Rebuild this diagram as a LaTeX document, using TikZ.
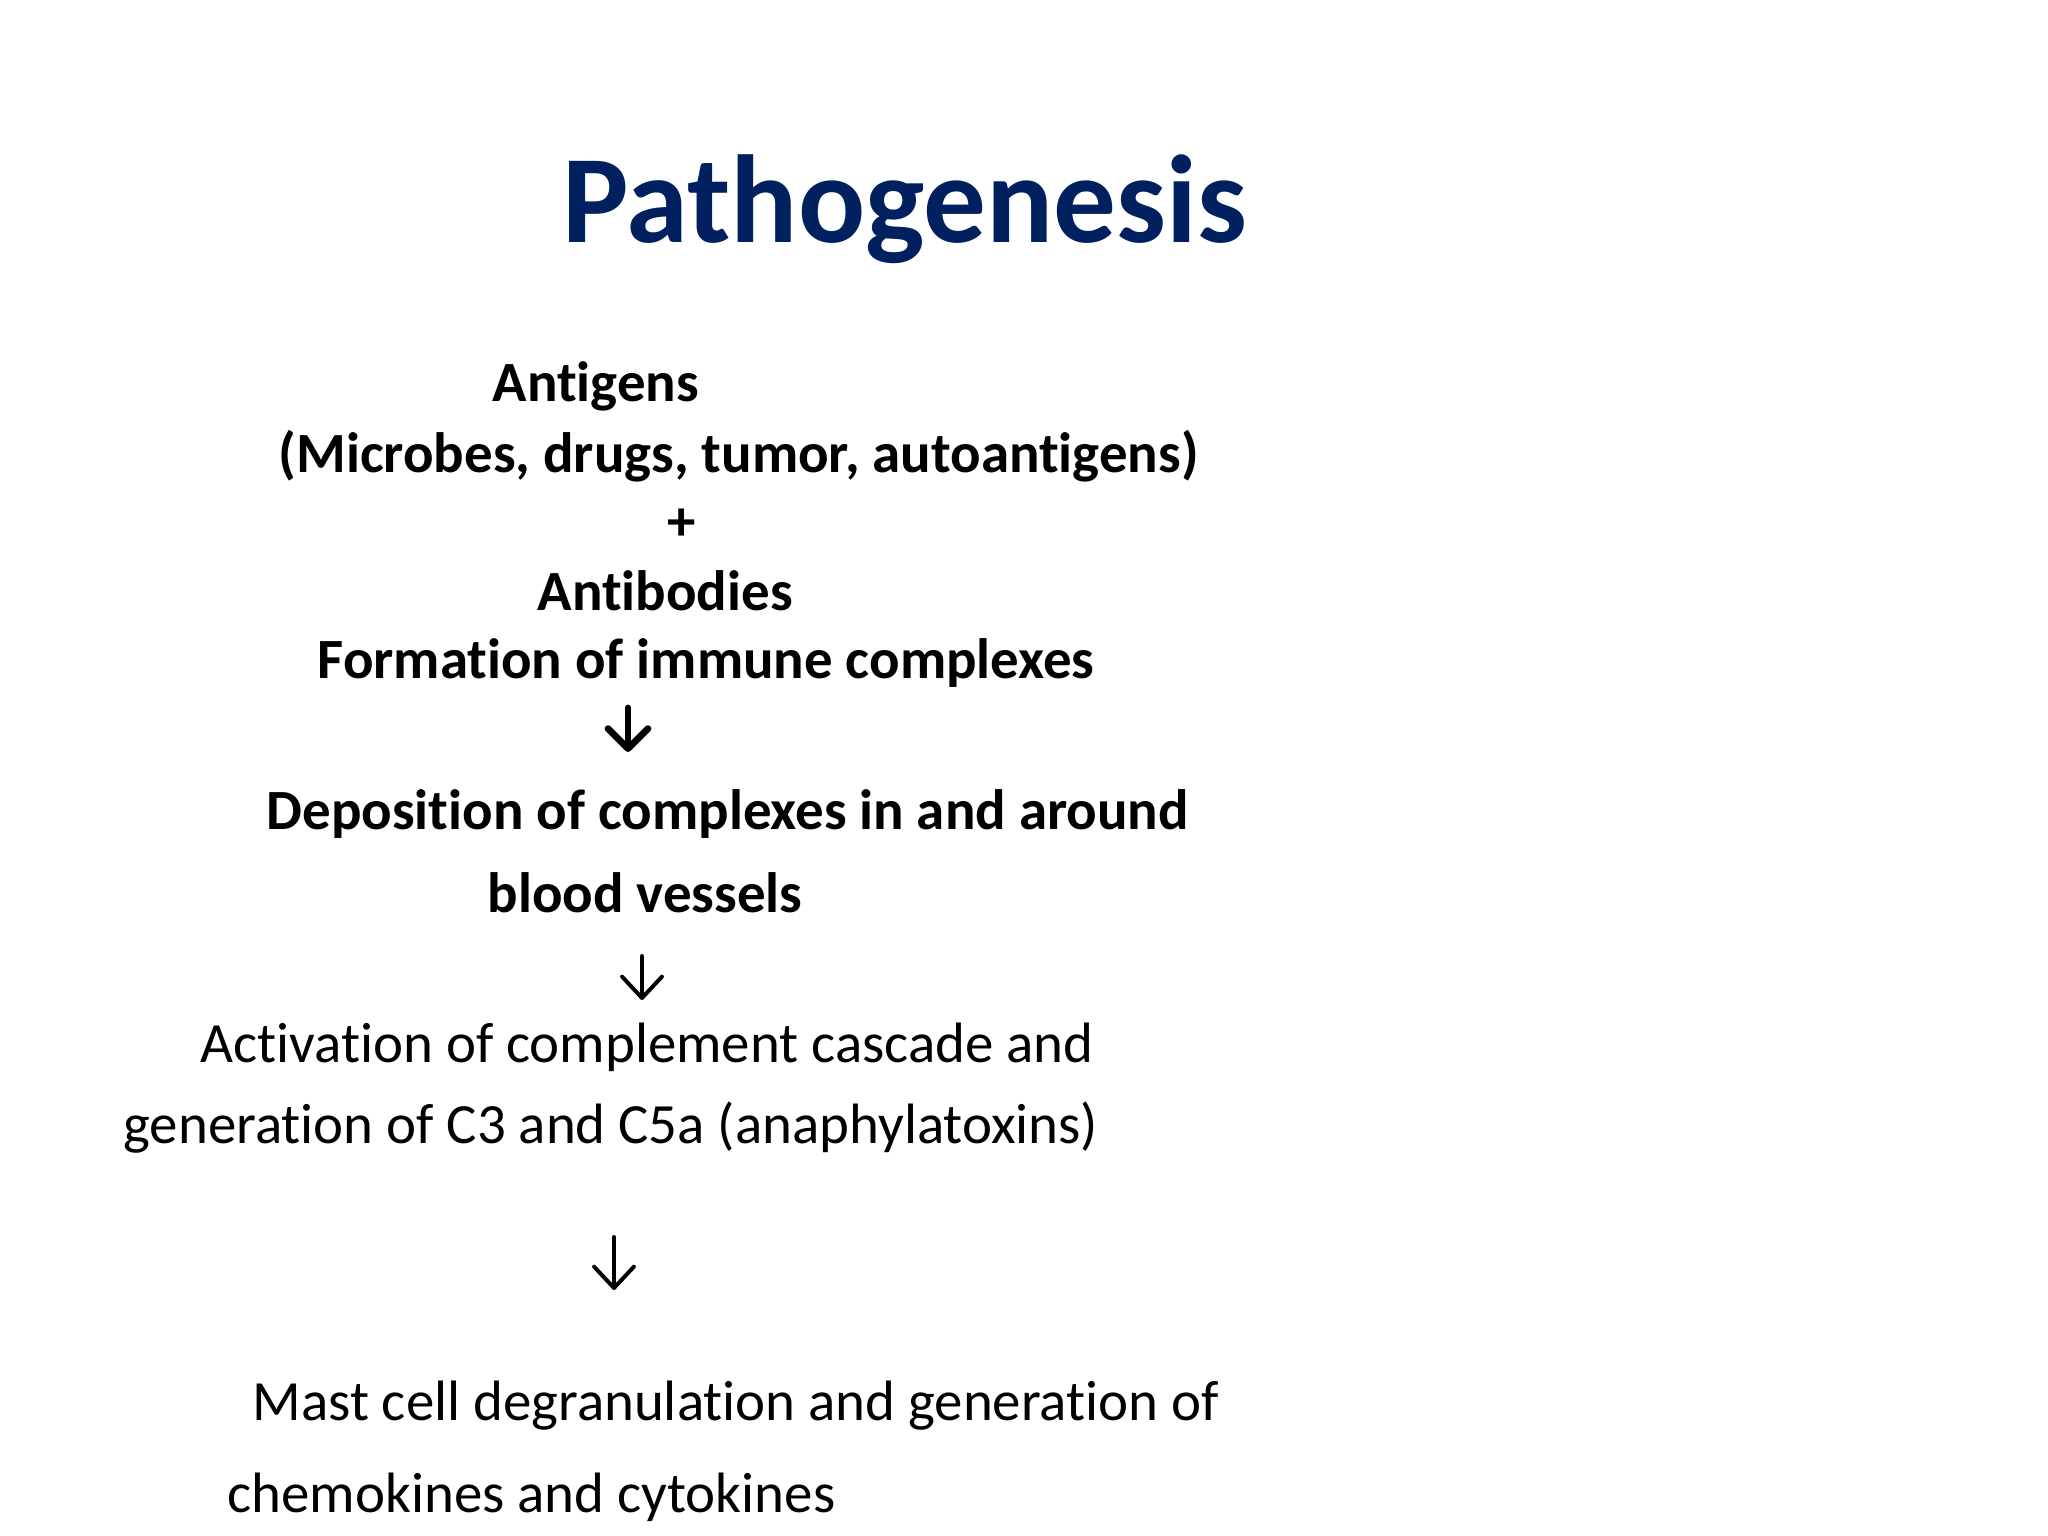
\documentclass[tikz,border=0pt]{standalone}
\usepackage{fontspec}
\setmainfont{Carlito}[Ligatures={NoCommon}]
\usetikzlibrary{arrows.meta}
\definecolor{titleblue}{HTML}{002060}
\tikzset{
  txt/.style={anchor=base west, inner sep=0pt, font=\fontsize{20}{24}\selectfont},
  btxt/.style={txt, font=\fontsize{20}{24}\selectfont\bfseries},
  ttl/.style={anchor=base west, inner sep=0pt, text=titleblue, font=\fontsize{44}{52}\selectfont\bfseries},
  flowarrow/.style={line width=1.4pt, line cap=round, -{Straight Barb[length=7.5pt, width=14pt, line width=1.4pt, round]}},
  boldarrow/.style={flowarrow, line width=2.4pt, -{Straight Barb[length=7pt, width=14pt, line width=2.4pt, round]}}
}
\begin{document}
\begin{tikzpicture}[x=0.3515625pt, y=-0.3515625pt]
\useasboundingbox[fill=white] (0,0) rectangle (2048,1536);
\node[ttl] (title) at (562,243) {Pathogenesis};
\node[btxt] (antigens) at (492,402) {Antigens};
\node[btxt] (microbes) at (278,473) {(Microbes, drugs, tumor, autoantigens)};
\node[btxt] (plus) at (667,541) {+};
\node[btxt] (antibodies) at (537,610) {Antibodies};
\node[btxt] (formation) at (317,678) {Formation of immune complexes};
\node[btxt] (deposition) at (266,829) {Deposition of complexes in and around};
\node[btxt] (vessels) at (487,912) {blood vessels};
\node[txt] (activation) at (200,1062) {Activation of complement cascade and};
\node[txt] (generation) at (123,1143) {generation of C3 and C5a (anaphylatoxins)};
\node[txt] (mast) at (252,1420) {Mast cell degranulation and generation of};
\node[txt] (chemo) at (227,1512) {chemokines and cytokines};
\coordinate (a1s) at (628,708);
\coordinate (a1e) at (628,752);
\coordinate (a2s) at (642,956);
\coordinate (a2e) at (642,1000);
\coordinate (a3s) at (614,1237);
\coordinate (a3e) at (614,1290);
\draw[boldarrow] (a1s) -- (a1e);
\draw[flowarrow] (a2s) -- (a2e);
\draw[flowarrow] (a3s) -- (a3e);
\end{tikzpicture}
\end{document}
